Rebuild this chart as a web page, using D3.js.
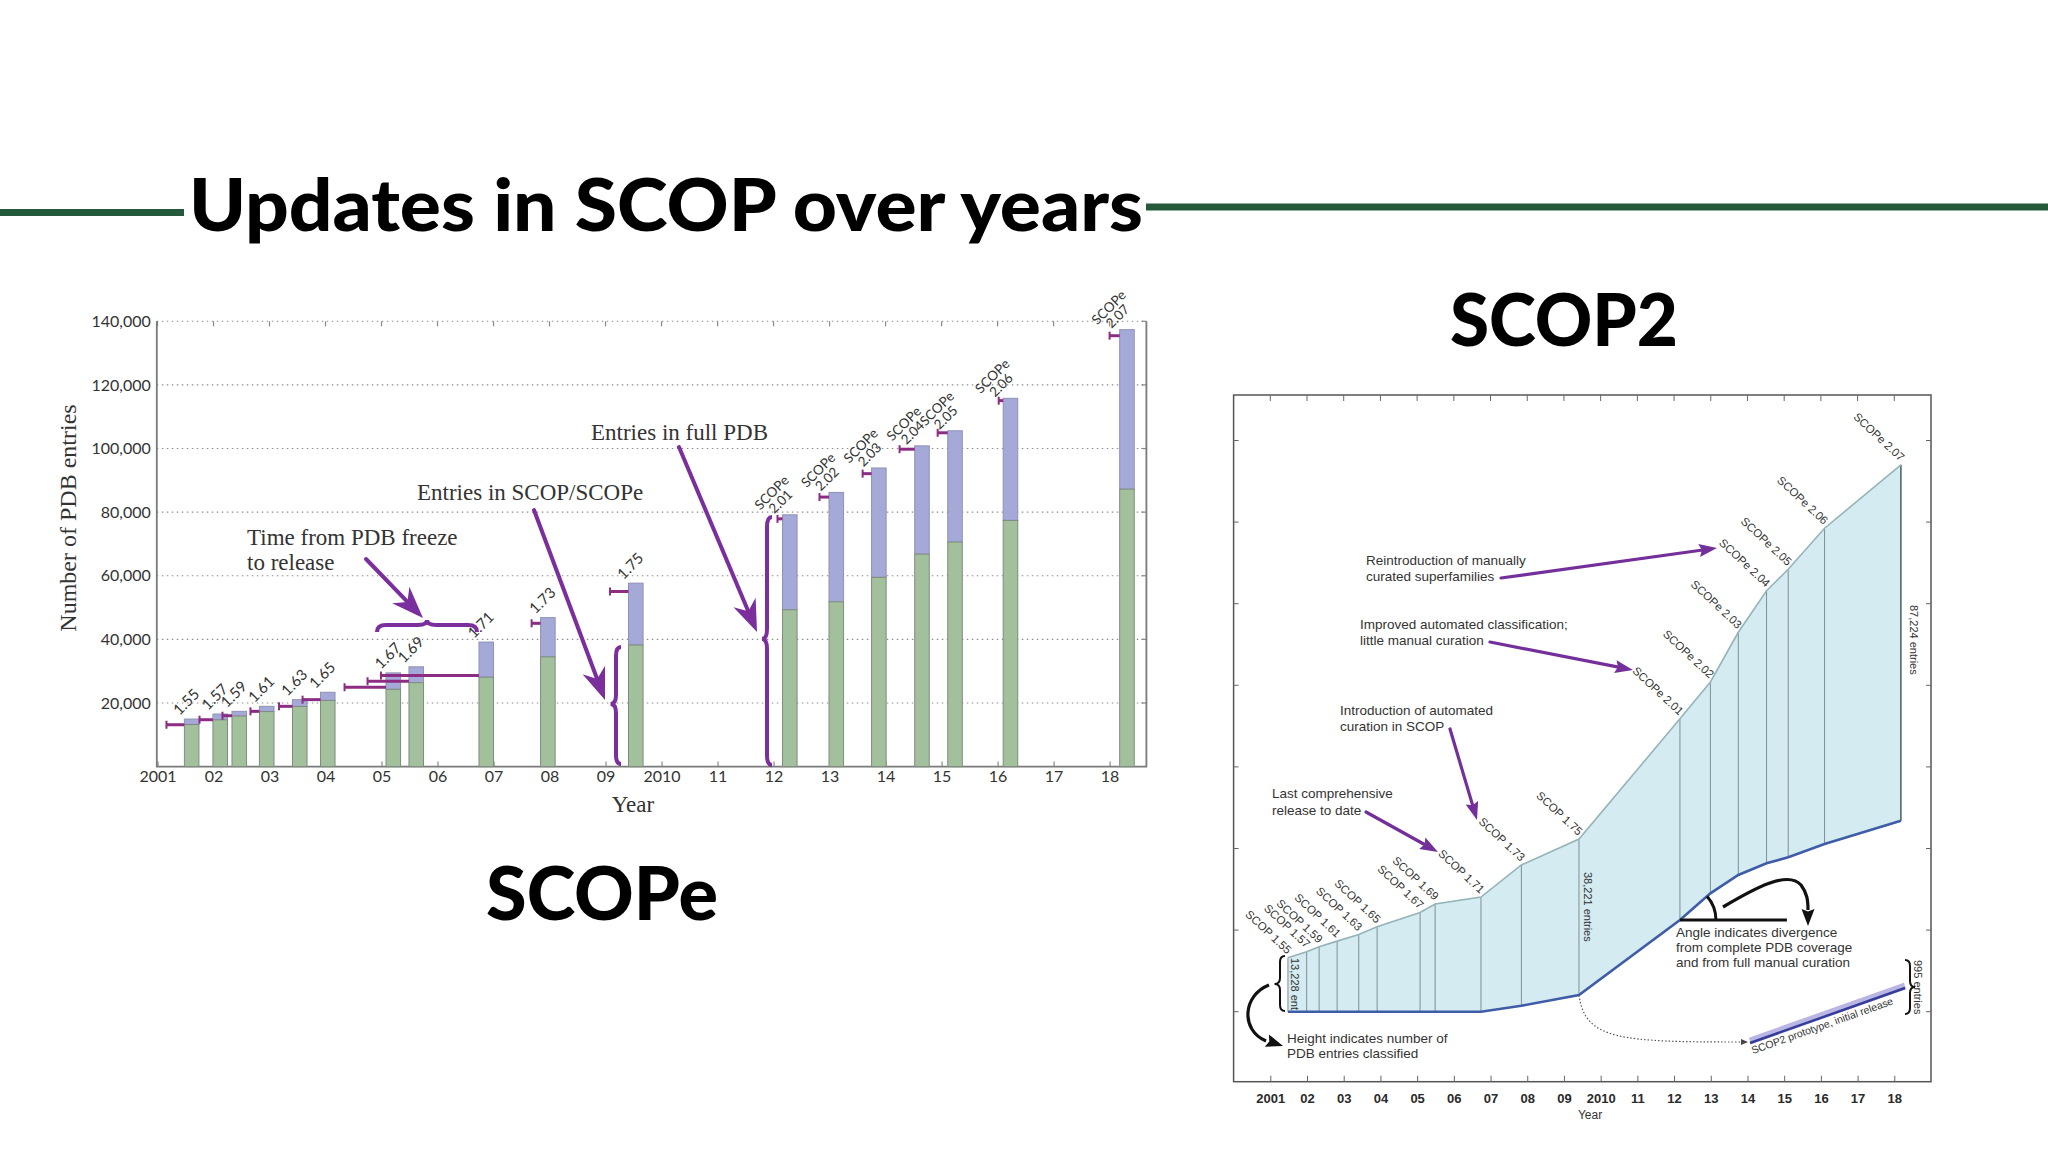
<!DOCTYPE html>
<html><head><meta charset="utf-8">
<script src="https://cdn.jsdelivr.net/npm/d3@7"></script>
<style>body{margin:0;background:#fff;}svg{display:block;}</style>
</head><body>
<script>
// ---------------- DATA ----------------
const releases = ["1.55","1.57","1.59","1.61","1.63","1.65","1.67","1.69","1.71","1.73","1.75","2.01","2.02","2.03","2.04","2.05","2.06","2.07"];
const releaseDates = [2001.48,2001.99,2002.33,2002.82,2003.41,2003.91,2005.08,2005.49,2006.74,2007.84,2009.41,2012.16,2012.99,2013.75,2014.52,2015.11,2016.10,2018.18];
const freezeDates = [2001.16,2001.75,2002.16,2002.66,2003.17,2003.59,2004.34,2004.75,2004.99,2007.68,2009.08,2012.07,2012.82,2013.59,2014.25,2014.93,2016.02,2018.00];
const classifiedEntries = [13228,14700,15900,17300,18900,20800,24300,26400,28100,34500,38221,49300,51800,59500,66800,70600,77400,87224];
const pdbAtRelease = [14950,16530,17370,18950,21050,23370,29470,31370,39160,46840,57680,79160,86210,93890,100840,105580,115790,137370];
const pdbAtFreeze = [13160,14740,16000,17370,18950,21050,24950,26840,28630,45050,55050,77890,84740,92100,99790,104950,115050,135470];
const scop2Baseline = [0,0,0,0,0,0,0,0,0,1470,4090,22480,29020,33500,36370,37840,41100,46810];
const yearTicks = [2001,2002,2003,2004,2005,2006,2007,2008,2009,2010,2011,2012,2013,2014,2015,2016,2017,2018];
const yearLabels = ["2001","02","03","04","05","06","07","08","09","2010","11","12","13","14","15","16","17","18"];
const leftYTicks = [20000,40000,60000,80000,100000,120000,140000];
const rightYTicks = [0,20000,40000,60000,80000,100000,120000,140000];

// ---------------- SETUP ----------------
const svg = d3.select("body").append("svg").attr("width",2048).attr("height",1152).style("background","#fff");
const HEAD = "Lato, 'Open Sans', sans-serif";
const SERIF = "'Liberation Serif', 'DejaVu Serif', serif";
const SANS = "'Liberation Sans', Arial, sans-serif";
const PURPLE = "#7a2f9c";
const FREEZE = "#8c2c83";

function arrowHead(g, x1, y1, x2, y2, len, wid, color, notch) {
  const a = Math.atan2(y2 - y1, x2 - x1), c = Math.cos(a), s = Math.sin(a);
  const bx = x2 - len * c, by = y2 - len * s;
  const nx = x2 - len * (1 - notch) * c, ny = y2 - len * (1 - notch) * s;
  g.append("path")
    .attr("d", `M${x2},${y2}L${bx - wid/2*s},${by + wid/2*c}L${nx},${ny}L${bx + wid/2*s},${by - wid/2*c}Z`)
    .attr("fill", color);
}
function arrow(g, x1, y1, x2, y2, o) {
  const a = Math.atan2(y2 - y1, x2 - x1);
  const ex = x2 - o.len * 0.6 * Math.cos(a), ey = y2 - o.len * 0.6 * Math.sin(a);
  g.append("line").attr("x1", x1).attr("y1", y1).attr("x2", ex).attr("y2", ey)
    .attr("stroke", o.color).attr("stroke-width", o.width).attr("stroke-linecap","round");
  arrowHead(g, x1, y1, x2, y2, o.len, o.wid, o.color, o.notch || 0);
}
function vBrace(xb, xs, xp, y1, y2, ym, r) {
  return `M${xb},${y1}Q${xs},${y1} ${xs},${y1+r}L${xs},${ym-r}Q${xs},${ym} ${xp},${ym}Q${xs},${ym} ${xs},${ym+r}L${xs},${y2-r}Q${xs},${y2} ${xb},${y2}`;
}
function hBrace(x1, x2, yb, ys, yp, xm, r) {
  return `M${x1},${yb}Q${x1},${ys} ${x1+r},${ys}L${xm-r},${ys}Q${xm},${ys} ${xm},${yp}Q${xm},${ys} ${xm+r},${ys}L${x2-r},${ys}Q${x2},${ys} ${x2},${yb}`;
}

// ---------------- TITLE ----------------
svg.append("rect").attr("x",0).attr("y",209).attr("width",184).attr("height",7).attr("fill","#245a3a");
svg.append("rect").attr("x",1146).attr("y",203.5).attr("width",902).attr("height",7).attr("fill","#245a3a");
svg.append("text").attr("x",189).attr("y",231).attr("font-family",HEAD).attr("font-weight",900)
  .attr("font-size",73).attr("textLength",954).attr("lengthAdjust","spacingAndGlyphs").attr("fill","#000")
  .text("Updates in SCOP over years");
svg.append("text").attr("x",1450).attr("y",346).attr("font-family",HEAD).attr("font-weight",900)
  .attr("font-size",72).attr("textLength",228).attr("lengthAdjust","spacingAndGlyphs").attr("fill","#000").text("SCOP2");
svg.append("text").attr("x",486).attr("y",920).attr("font-family",HEAD).attr("font-weight",900)
  .attr("font-size",74).attr("textLength",232).attr("lengthAdjust","spacingAndGlyphs").attr("fill","#000").text("SCOPe");

// ---------------- LEFT CHART (SCOPe) ----------------
const xL = d3.scaleLinear().domain([2001, 2018]).range([157.5, 1109.6]);
const yL = d3.scaleLinear().domain([0, 140000]).range([766.6, 321.3]);
const L = svg.append("g");
const lx0 = 156.8, lx1 = 1146.4;

L.selectAll("line.grid").data(leftYTicks).join("line").attr("class","grid")
  .attr("x1", lx0).attr("x2", lx1).attr("y1", d => yL(d)).attr("y2", d => yL(d))
  .attr("stroke","#8c8c8c").attr("stroke-width",1.1).attr("stroke-dasharray","1.5,3.5");
L.selectAll("line.tt").data(yearTicks).join("line").attr("class","tt")
  .attr("x1", d => xL(d)).attr("x2", d => xL(d)).attr("y1", yL(140000)).attr("y2", yL(140000) + 5)
  .attr("stroke","#888").attr("stroke-width",1.2);
L.selectAll("line.rt").data(leftYTicks).join("line").attr("class","rt")
  .attr("x1", lx1 - 5).attr("x2", lx1).attr("y1", d => yL(d)).attr("y2", d => yL(d))
  .attr("stroke","#888").attr("stroke-width",1.2);

const ayL = L.append("g").attr("transform",`translate(${lx0 - 2},0)`)
  .call(d3.axisLeft(yL).tickValues(leftYTicks).tickFormat(d3.format(",")).tickSize(0).tickPadding(4));
ayL.select(".domain").remove();
ayL.selectAll("text").attr("font-family",HEAD).attr("font-size",16).attr("fill","#333");

const axL = L.append("g").attr("transform",`translate(0,${yL(0)})`)
  .call(d3.axisBottom(xL).tickValues(yearTicks).tickFormat((d,i) => yearLabels[i]).tickSizeInner(-5).tickSizeOuter(0).tickPadding(4));
axL.select(".domain").remove();
axL.selectAll("line").attr("stroke","#888").attr("stroke-width",1.2);
axL.selectAll("text").attr("font-family",HEAD).attr("font-size",16).attr("fill","#333");

L.append("path").attr("d",`M${lx0},${yL(140000)}V${yL(0)}H${lx1}V${yL(140000)}`)
  .attr("fill","none").attr("stroke","#7a7a7a").attr("stroke-width",1.8);

const bw = xL(2001.26) - xL(2001);
L.selectAll("rect.blue").data(releases).join("rect").attr("class","blue")
  .attr("x",(d,i) => xL(releaseDates[i])).attr("width", bw)
  .attr("y",(d,i) => yL(pdbAtRelease[i])).attr("height",(d,i) => yL(classifiedEntries[i]) - yL(pdbAtRelease[i]))
  .attr("fill","#a5a9d8").attr("stroke","#8f92b3").attr("stroke-width",1);
L.selectAll("rect.green").data(releases).join("rect").attr("class","green")
  .attr("x",(d,i) => xL(releaseDates[i])).attr("width", bw)
  .attr("y",(d,i) => yL(classifiedEntries[i])).attr("height",(d,i) => yL(0) - yL(classifiedEntries[i]))
  .attr("fill","#a3c09d").attr("stroke","#7e8c7f").attr("stroke-width",1);

// freeze-to-release markers
L.selectAll("line.fz").data(releases).join("line").attr("class","fz")
  .attr("x1",(d,i) => xL(freezeDates[i])).attr("x2",(d,i) => xL(releaseDates[i]))
  .attr("y1",(d,i) => yL(pdbAtFreeze[i])).attr("y2",(d,i) => yL(pdbAtFreeze[i]))
  .attr("stroke",FREEZE).attr("stroke-width",3);
L.selectAll("line.fzc").data(releases).join("line").attr("class","fzc")
  .attr("x1",(d,i) => xL(freezeDates[i])).attr("x2",(d,i) => xL(freezeDates[i]))
  .attr("y1",(d,i) => yL(pdbAtFreeze[i]) - 4).attr("y2",(d,i) => yL(pdbAtFreeze[i]) + 4)
  .attr("stroke",FREEZE).attr("stroke-width",2);

// bar labels
releases.forEach((r, i) => {
  const x = xL(releaseDates[i]), y = yL(pdbAtRelease[i]);
  if (r.startsWith("1")) {
    L.append("text").attr("transform",`translate(${x - 5},${y - 3}) rotate(-45)`)
      .attr("font-family",HEAD).attr("font-size",15).attr("fill","#333").text(r);
  } else {
    const g = L.append("g").attr("transform",`translate(${x + bw/2 - 6},${y - 10}) rotate(-45)`);
    g.append("text").attr("y",-12.5).attr("text-anchor","middle").attr("font-family",HEAD).attr("font-size",13.5).attr("fill","#333").text("SCOPe");
    g.append("text").attr("y",0).attr("text-anchor","middle").attr("font-family",HEAD).attr("font-size",13.5).attr("fill","#333").text(r);
  }
});

// axis titles
L.append("text").attr("transform","translate(76,518) rotate(-90)").attr("text-anchor","middle")
  .attr("font-family",SERIF).attr("font-size",24).attr("fill","#333").text("Number of PDB entries");
L.append("text").attr("x",633).attr("y",812).attr("text-anchor","middle")
  .attr("font-family",SERIF).attr("font-size",23).attr("fill","#333").text("Year");

// annotations
const annL = L.append("g");
annL.append("text").attr("x",247).attr("y",545).attr("font-family",SERIF).attr("font-size",23).attr("fill","#333").text("Time from PDB freeze");
annL.append("text").attr("x",247).attr("y",570).attr("font-family",SERIF).attr("font-size",23).attr("fill","#333").text("to release");
annL.append("text").attr("x",417).attr("y",500).attr("font-family",SERIF).attr("font-size",23).attr("fill","#333").text("Entries in SCOP/SCOPe");
annL.append("text").attr("x",591).attr("y",440).attr("font-family",SERIF).attr("font-size",23).attr("fill","#333").text("Entries in full PDB");
const AO = {color:PURPLE, width:4, len:32, wid:24, notch:0.3};
arrow(annL, 366, 559, 423, 618, AO);
arrow(annL, 534, 510, 605, 700, AO);
arrow(annL, 679, 447, 757, 632, AO);
annL.append("path").attr("d", hBrace(377, 477, 632, 625, 620, 427, 9)).attr("fill","none").attr("stroke",PURPLE).attr("stroke-width",4);
annL.append("path").attr("d", vBrace(621, 616, 610.5, 647, 764, 704, 9)).attr("fill","none").attr("stroke",PURPLE).attr("stroke-width",4);
annL.append("path").attr("d", vBrace(772, 767, 762, 517, 765, 639, 10)).attr("fill","none").attr("stroke",PURPLE).attr("stroke-width",4);

// ---------------- RIGHT CHART (SCOP2) ----------------
const xR = d3.scaleLinear().domain([2000, 2019]).range([1233.6, 1931]);
const yR = d3.scaleLinear().domain([0, 140000]).range([1011.7, 440.5]);
const R = svg.append("g");
const rx0 = 1233.6, rx1 = 1931, ry0 = 395, ry1 = 1081.7;

R.append("rect").attr("x",rx0).attr("y",ry0).attr("width",rx1 - rx0).attr("height",ry1 - ry0)
  .attr("fill","#fff").attr("stroke","#555").attr("stroke-width",1.5);
R.selectAll("line.rtt").data(yearTicks).join("line").attr("class","rtt")
  .attr("x1",d => xR(d)).attr("x2",d => xR(d)).attr("y1",ry0).attr("y2",ry0 + 6).attr("stroke","#666");
R.selectAll("line.rlt").data(rightYTicks).join("line").attr("class","rlt")
  .attr("x1",rx0).attr("x2",rx0 + 5).attr("y1",d => yR(d)).attr("y2",d => yR(d)).attr("stroke","#666");
R.selectAll("line.rrt").data(rightYTicks).join("line").attr("class","rrt")
  .attr("x1",rx1 - 5).attr("x2",rx1).attr("y1",d => yR(d)).attr("y2",d => yR(d)).attr("stroke","#666");
const axR = R.append("g").attr("transform",`translate(0,${ry1})`)
  .call(d3.axisBottom(xR).tickValues(yearTicks).tickFormat((d,i) => yearLabels[i]).tickSizeInner(-6).tickSizeOuter(0).tickPadding(12));
axR.select(".domain").remove();
axR.selectAll("line").attr("stroke","#666");
axR.selectAll("text").attr("font-family",SANS).attr("font-weight","bold").attr("font-size",13).attr("fill","#2a2a2a");
R.append("text").attr("x",1590).attr("y",1119).attr("text-anchor","middle").attr("font-family",SANS).attr("font-size",12).attr("fill","#333").text("Year");

const idx = releases.map((d,i) => i);
const area = d3.area().x(i => xR(releaseDates[i])).y0(i => yR(scop2Baseline[i])).y1(i => yR(scop2Baseline[i] + classifiedEntries[i]));
R.append("path").attr("d", area(idx)).attr("fill","#d3ebf1");
R.selectAll("line.rv").data(idx).join("line").attr("class","rv")
  .attr("x1",i => xR(releaseDates[i])).attr("x2",i => xR(releaseDates[i]))
  .attr("y1",i => yR(scop2Baseline[i])).attr("y2",i => yR(scop2Baseline[i] + classifiedEntries[i]))
  .attr("stroke",(d,i) => (i === idx.length - 1 ? "#55666a" : "#7d9094")).attr("stroke-width",(d,i) => (i === idx.length - 1 ? 1.6 : 1));
R.append("path").attr("d", d3.line().x(i => xR(releaseDates[i])).y(i => yR(scop2Baseline[i] + classifiedEntries[i]))(idx))
  .attr("fill","none").attr("stroke","#95b4b8").attr("stroke-width",1.6);
R.append("path").attr("d", d3.line().x(i => xR(releaseDates[i])).y(i => yR(scop2Baseline[i]))(idx))
  .attr("fill","none").attr("stroke","#3f5ca8").attr("stroke-width",2.6);

// release labels
idx.forEach(i => {
  const x = xR(releaseDates[i]), y = yR(scop2Baseline[i] + classifiedEntries[i]);
  R.append("text").attr("transform",`translate(${x - 1},${y - 3}) rotate(43)`).attr("text-anchor","end")
    .attr("font-family",SANS).attr("font-size",11.5).attr("fill","#333")
    .text((releases[i].startsWith("1") ? "SCOP " : "SCOPe ") + releases[i]);
});

// vertical entry-count labels
function vText(x, y, t, fs) {
  R.append("text").attr("transform",`translate(${x},${y}) rotate(90)`).attr("font-family",SANS)
    .attr("font-size",fs).attr("fill","#333").text(t);
}
vText(1291, 958, "13,228 ent", 11);
vText(1583.5, 872, "38,221 entries", 11);
vText(1910, 605, "87,224 entries", 11);
vText(1914, 960, "995 entries", 11);

// annotation texts
const annR = R.append("g").attr("font-family",SANS).attr("font-size",13.5).attr("fill","#333");
function tLines(x, y, lines, lh) { lines.forEach((t,k) => annR.append("text").attr("x",x).attr("y",y + k*lh).text(t)); }
tLines(1366, 565, ["Reintroduction of manually","curated superfamilies"], 16);
tLines(1360, 629, ["Improved automated classification;","little manual curation"], 16);
tLines(1340, 715, ["Introduction of automated","curation in SCOP"], 16);
tLines(1272, 798, ["Last comprehensive","release to date"], 16.5);
tLines(1287, 1043, ["Height indicates number of","PDB entries classified"], 14.5);
tLines(1676, 937, ["Angle indicates divergence","from complete PDB coverage","and from full manual curation"], 15);

const AR = {color:"#74309a", width:3.2, len:18, wid:13, notch:0.15};
arrow(R, 1501, 578, 1717, 548, AR);
arrow(R, 1490, 642, 1633, 670, AR);
arrow(R, 1450, 729, 1477, 820, AR);
arrow(R, 1366, 812, 1438, 852, AR);

// angle indicator
const ax0 = xR(releaseDates[11]), ay0 = yR(scop2Baseline[11]);
const ax1 = xR(releaseDates[12]), ay1 = yR(scop2Baseline[12]);
R.append("line").attr("x1",ax0).attr("y1",ay0).attr("x2",ax0 + 107).attr("y2",ay0).attr("stroke","#111").attr("stroke-width",3);
const ang = Math.atan2(ay1 - ay0, ax1 - ax0), rr = 36;
R.append("path").attr("d",`M${ax0 + rr*Math.cos(ang)},${ay0 + rr*Math.sin(ang)}A${rr},${rr} 0 0 1 ${ax0 + rr},${ay0}`)
  .attr("fill","none").attr("stroke","#111").attr("stroke-width",3);
R.append("path").attr("d","M1723,907C1755,888 1788,870 1801,885C1807,893 1808,900 1808,910")
  .attr("fill","none").attr("stroke","#111").attr("stroke-width",3.2);
arrowHead(R, 1808, 905, 1808, 926, 17, 13, "#111", 0.15);

// height brace + curved arrow
R.append("path").attr("d", vBrace(1285, 1280, 1274.5, 956, 1011, 984, 6)).attr("fill","none").attr("stroke","#111").attr("stroke-width",2);
R.append("path").attr("d","M1269,985C1243,995 1240,1030 1266,1041")
  .attr("fill","none").attr("stroke","#111").attr("stroke-width",3.2);
arrowHead(R, 1262, 1039, 1283, 1046, 17, 13, "#111", 0.15);

// dotted link to SCOP2 prototype
R.append("path").attr("d",`M${xR(releaseDates[10])},${yR(scop2Baseline[10])}C1585,1040 1620,1042 1741,1042`)
  .attr("fill","none").attr("stroke","#555").attr("stroke-width",1.2).attr("stroke-dasharray","1.5,2");
arrowHead(R, 1735, 1042, 1748, 1042, 7, 6, "#444", 0);

// SCOP2 prototype band
R.append("line").attr("x1",1750).attr("y1",1041).attr("x2",1905).attr("y2",986).attr("stroke","#b9b6e3").attr("stroke-width",7);
R.append("line").attr("x1",1750).attr("y1",1043).attr("x2",1905).attr("y2",988).attr("stroke","#353c99").attr("stroke-width",2.4);
R.append("text").attr("transform","translate(1753,1054) rotate(-19.5)").attr("font-family",SANS).attr("font-size",10.5)
  .attr("fill","#333").text("SCOP2 prototype, initial release");
R.append("path").attr("d","M1905,960Q1910,960 1910,966L1910,981Q1910,987 1915,987Q1910,987 1910,993L1910,1008Q1910,1014 1905,1014")
  .attr("fill","none").attr("stroke","#111").attr("stroke-width",2);
</script>
</body></html>
